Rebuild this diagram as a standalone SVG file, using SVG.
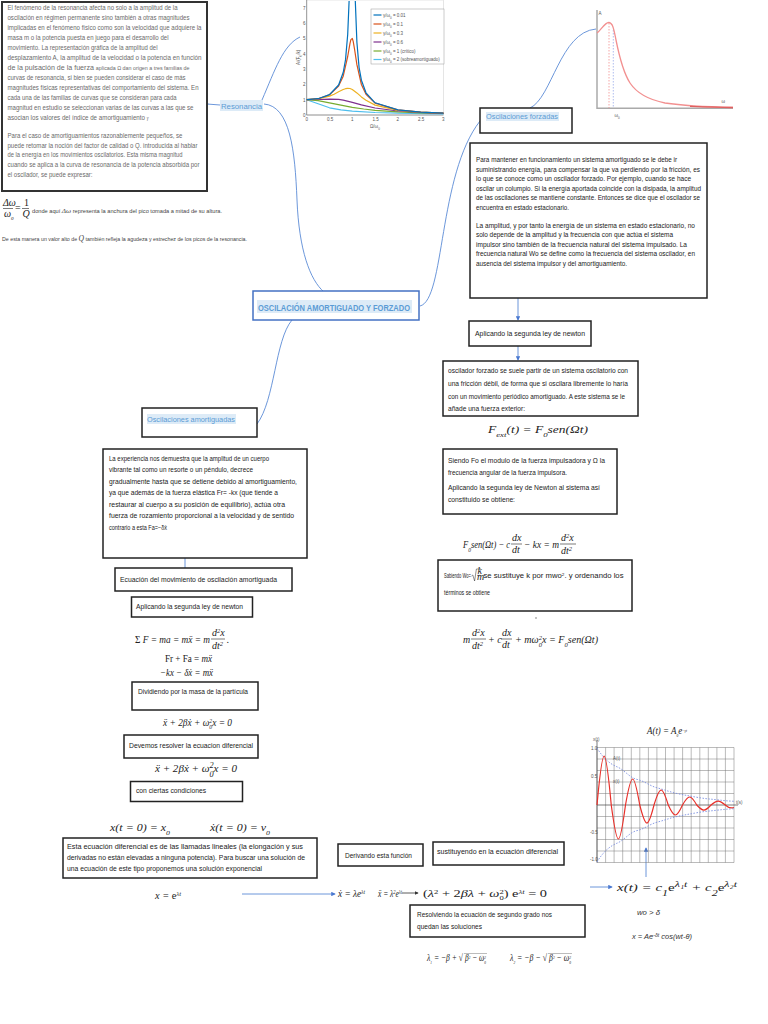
<svg xmlns="http://www.w3.org/2000/svg" width="768" height="1024" viewBox="0 0 768 1024">
<defs>
<marker id="ar" viewBox="0 0 6 6" refX="5" refY="3" markerWidth="5" markerHeight="5" orient="auto"><path d="M0,0 L6,3 L0,6 z" fill="#4a78d0"/></marker>
<marker id="ak" viewBox="0 0 6 6" refX="5" refY="3" markerWidth="5" markerHeight="5" orient="auto"><path d="M0,0 L6,3 L0,6 z" fill="#333"/></marker>
</defs>
<style>
.bx{fill:#fff;stroke:#222;stroke-width:1.5}
.tx{font-family:"Liberation Sans","Noto Sans",sans-serif;font-size:6.6px;fill:#222}
.gt{font-family:"Liberation Sans",sans-serif;font-size:8px;fill:#6a6a6a}
.m{font-family:"Liberation Serif","DejaVu Serif",serif;font-style:italic;font-size:10px;fill:#222}
.mu{font-family:"Liberation Serif","DejaVu Serif",serif;font-size:10px;fill:#222}
.nd{font-family:"Liberation Sans",sans-serif;font-size:8px;fill:#5b9bd5}
.hl{fill:#ddebf7}
.cn{fill:none;stroke:#5b8bd6;stroke-width:0.9}
.ax{font-family:"Liberation Sans",sans-serif;font-size:4.5px;fill:#555}
.fl{stroke:#222;stroke-width:0.6}
.cv{fill:none;stroke-width:1.2;stroke-linejoin:round}
</style>
<rect width="768" height="1024" fill="#fff"/>

<g id="connectors">
<circle cx="206.5" cy="104" r="1.8" fill="#4a78d0"/>
<path class="cn" d="M207,104 L220,105"/>
<path class="cn" d="M262,100 C275,70 283,45 300,37"/>
<path class="cn" d="M264,104 C290,106 295,150 297,200 C299,250 310,280 324,292"/>
<path class="cn" d="M420,306 C445,300 438,175 480,121"/>
<path class="cn" d="M530,108 C552,98 560,32 596,29"/>
<path class="cn" d="M292,320 C275,340 275,400 257,424"/>
<path class="cn" d="M518,298 L518,320" marker-end="url(#ar)"/>
<path class="cn" d="M518,346 L518,360" marker-end="url(#ar)"/>
<path class="cn" d="M185,558 L185,568"/>
<path class="cn" d="M242,894 L335,894" marker-end="url(#ar)"/>
<path fill="none" stroke="#333" stroke-width="0.8" d="M402,893 L418,893" marker-end="url(#ak)"/>
<path class="cn" d="M590,887 L612,887" marker-end="url(#ar)"/>
<path class="cn" d="M646,877 L646,848" marker-end="url(#ar)"/>
<circle cx="536" cy="618" r="0.8" fill="#777"/>
</g>

<g id="texto-resonancia">
<rect x="2" y="2" width="205" height="189" fill="#fff" stroke="#333" stroke-width="2"/>
<text class="gt" x="7.5" y="10.3" textLength="170" lengthAdjust="spacingAndGlyphs">El fenómeno de la resonancia afecta no solo a la amplitud de la</text>
<text class="gt" x="7.5" y="20.3" textLength="182" lengthAdjust="spacingAndGlyphs">oscilación en régimen permanente sino también a otras magnitudes</text>
<text class="gt" x="7.5" y="30.3" textLength="194" lengthAdjust="spacingAndGlyphs">implicadas en el fenómeno físico como son la velocidad que adquiere la</text>
<text class="gt" x="7.5" y="40.3" textLength="161" lengthAdjust="spacingAndGlyphs">masa m o la potencia puesta en juego para el desarrollo del</text>
<text class="gt" x="7.5" y="50.3" textLength="150" lengthAdjust="spacingAndGlyphs">movimiento. La representación gráfica de la amplitud del</text>
<text class="gt" x="7.5" y="60.3" textLength="194" lengthAdjust="spacingAndGlyphs">desplazamiento A, la amplitud de la velocidad o la potencia en función</text>
<text class="gt" x="7.5" y="70.3" textLength="182" lengthAdjust="spacingAndGlyphs">de la pulsación de la fuerza <tspan font-size="6">aplicada Ω dan origen a tres familias de</tspan></text>
<text class="gt" x="7.5" y="80.3" textLength="178" lengthAdjust="spacingAndGlyphs">curvas de resonancia, si bien se pueden considerar el caso de más</text>
<text class="gt" x="7.5" y="90.3" textLength="191" lengthAdjust="spacingAndGlyphs">magnitudes físicas representativas del comportamiento del sistema. En</text>
<text class="gt" x="7.5" y="100.3" textLength="169" lengthAdjust="spacingAndGlyphs">cada una de las familias de curvas que se consideran para cada</text>
<text class="gt" x="7.5" y="110.3" textLength="186" lengthAdjust="spacingAndGlyphs">magnitud en estudio se seleccionan varias de las curvas a las que se</text>
<text class="gt" x="7.5" y="120.3" textLength="141" lengthAdjust="spacingAndGlyphs">asocian los valores del índice de amortiguamiento <tspan font-family="Liberation Serif" font-style="italic" font-size="6">γ</tspan></text>
<text class="gt" x="7.5" y="137.8" textLength="175" lengthAdjust="spacingAndGlyphs">Para el caso de amortiguamientos razonablemente pequeños, se</text>
<text class="gt" x="7.5" y="147.6" textLength="190" lengthAdjust="spacingAndGlyphs">puede retomar la noción del factor de calidad o Q. introducida al hablar</text>
<text class="gt" x="7.5" y="157.4" textLength="175" lengthAdjust="spacingAndGlyphs">de la energía en los movimientos oscilatorios. Esta misma magnitud</text>
<text class="gt" x="7.5" y="167.2" textLength="192" lengthAdjust="spacingAndGlyphs">cuando se aplica a la curva de resonancia de la potencia absorbida por</text>
<text class="gt" x="7.5" y="177" textLength="85" lengthAdjust="spacingAndGlyphs">el oscilador, se puede expresar:</text>
</g>

<g id="factor-calidad">
<text class="m" x="3" y="206" font-size="7.5" fill="#333">Δω</text>
<line class="fl" x1="3" y1="208.5" x2="13" y2="208.5"/>
<text class="m" x="4" y="217" font-size="7.5" fill="#333">ω<tspan font-size="5" baseline-shift="sub">0</tspan></text>
<text class="mu" x="15" y="211" font-size="7.5" fill="#333">=</text>
<text class="mu" x="24" y="206" font-size="7.5" fill="#333">1</text>
<line class="fl" x1="22" y1="208.5" x2="29" y2="208.5"/>
<text class="m" x="22.5" y="217" font-size="7.5" fill="#333">Q</text>
<text x="32" y="213" font-family="Liberation Sans, sans-serif" font-size="5.5" fill="#444" textLength="190" lengthAdjust="spacingAndGlyphs">donde aquí <tspan font-family="Liberation Serif" font-style="italic" font-size="7">Δω</tspan> representa la anchura del pico tomada a mitad de su altura.</text>
<text x="2" y="241" font-family="Liberation Sans, sans-serif" font-size="5.5" fill="#444" textLength="245" lengthAdjust="spacingAndGlyphs">De esta manera un valor alto de <tspan font-family="Liberation Serif" font-style="italic" font-size="8">Q</tspan> también refleja la agudeza y estrechez de los picos de la resonancia.</text>
</g>

<g id="resonancia">
<rect class="hl" x="220" y="100" width="43" height="11"/>
<text class="nd" x="221" y="108.5" textLength="41" lengthAdjust="spacingAndGlyphs">Resonancia</text>
</g>

<g id="grafica-resonancia">
<rect x="306.7" y="0" width="136.8" height="115" fill="#fff" stroke="#ccc" stroke-width="0.5"/>
<path d="M306.7,0 V115 H443.5" fill="none" stroke="#777" stroke-width="0.7"/>
<text class="ax" x="303" y="117">0</text><text class="ax" x="303" y="101.5">1</text><text class="ax" x="303" y="86">2</text><text class="ax" x="303" y="71">3</text><text class="ax" x="303" y="55.5">4</text><text class="ax" x="303" y="40">5</text><text class="ax" x="303" y="25">6</text><text class="ax" x="303" y="9.5">7</text>
<text class="ax" x="305.5" y="121">0</text><text class="ax" x="327" y="121">0.5</text><text class="ax" x="351" y="121">1</text><text class="ax" x="372.5" y="121">1.5</text><text class="ax" x="396.5" y="121">2</text><text class="ax" x="418" y="121">2.5</text><text class="ax" x="442" y="121">3</text>
<text class="ax" x="370" y="127.5">Ω/ω<tspan font-size="3" baseline-shift="sub">0</tspan></text>
<text class="ax" transform="translate(300,65) rotate(-90)">A/(F<tspan font-size="3" baseline-shift="sub">0</tspan>/k)</text>
<polyline class="cv" stroke="#4dbeee" points="306.7,99.7 318.1,103.8 329.5,107.8 340.9,109.9 352.3,111.2 375.1,112.5 397.9,113.2 443.5,113.9"/>
<polyline class="cv" stroke="#77ac30" points="306.7,99.7 318.1,100.6 329.5,102.8 340.9,105.2 352.3,107.4 363.7,109.0 375.1,110.3 397.9,111.9 420.7,112.9 443.5,113.5"/>
<polyline class="cv" stroke="#7e2f8e" points="306.7,99.7 318.1,99.5 329.5,99.1 338.6,99.4 343.2,100.1 352.3,102.3 361.4,104.8 375.1,108.0 397.9,111.0 420.7,112.5 443.5,113.3"/>
<polyline class="cv" stroke="#edb120" points="306.7,99.7 318.1,98.9 329.5,96.1 334.1,94.2 338.6,91.8 343.2,89.5 345.5,88.7 347.7,88.3 350.0,88.5 352.3,89.5 356.9,92.9 361.4,96.9 366.0,100.3 375.1,105.1 397.9,110.3 420.7,112.2 443.5,113.1"/>
<polyline class="cv" stroke="#d95319" points="306.7,99.7 318.1,98.7 329.5,94.8 338.6,86.1 343.2,76.2 347.7,56.5 350.0,43.4 350.9,39.6 352.3,38.5 353.2,41.4 354.6,49.5 356.9,64.7 361.4,84.5 366.0,94.3 375.1,103.1 397.9,109.9 420.7,112.1 443.5,113.1"/>
<path class="cv" stroke="#0072bd" d="M306.7,99.7 L318.1,98.7 329.5,94.6 338.6,85.0 343.2,72.5 345.5,59.9 347.7,34.5 349.1,1 M355.3,1 L356.9,42.2 359.1,67.6 361.4,80.2 366.0,92.8 375.1,102.8 397.9,109.9 420.7,112.1 443.5,113.1"/>
<rect x="371" y="9" width="73" height="55" fill="#fff" stroke="#999" stroke-width="0.5"/>
<line x1="373.5" y1="15" x2="381.5" y2="15" stroke="#0072bd" stroke-width="1.2"/>
<line x1="373.5" y1="24" x2="381.5" y2="24" stroke="#d95319" stroke-width="1.2"/>
<line x1="373.5" y1="33" x2="381.5" y2="33" stroke="#edb120" stroke-width="1.2"/>
<line x1="373.5" y1="42" x2="381.5" y2="42" stroke="#7e2f8e" stroke-width="1.2"/>
<line x1="373.5" y1="51" x2="381.5" y2="51" stroke="#77ac30" stroke-width="1.2"/>
<line x1="373.5" y1="59.5" x2="381.5" y2="59.5" stroke="#4dbeee" stroke-width="1.2"/>
<text class="ax" x="383" y="16.6">γ/ω<tspan font-size="3" baseline-shift="sub">0</tspan> = 0.01</text>
<text class="ax" x="383" y="25.6">γ/ω<tspan font-size="3" baseline-shift="sub">0</tspan> = 0.1</text>
<text class="ax" x="383" y="34.6">γ/ω<tspan font-size="3" baseline-shift="sub">0</tspan> = 0.3</text>
<text class="ax" x="383" y="43.6">γ/ω<tspan font-size="3" baseline-shift="sub">0</tspan> = 0.6</text>
<text class="ax" x="383" y="52.6">γ/ω<tspan font-size="3" baseline-shift="sub">0</tspan> = 1 (crítico)</text>
<text class="ax" x="383" y="61.1">γ/ω<tspan font-size="3" baseline-shift="sub">0</tspan> = 2 (sobreamortiguado)</text>
</g>

<g id="grafica-forzada">
<path d="M597,10 V108.3 H733" fill="none" stroke="#aaa" stroke-width="1.5"/>
<line x1="609" y1="23" x2="609" y2="108" stroke="#f08080" stroke-width="0.7" stroke-dasharray="1.5,1.5"/>
<line x1="613.3" y1="30" x2="613.3" y2="108" stroke="#8da0e8" stroke-width="0.7" stroke-dasharray="1.5,1.5"/>
<path d="M597,33 C601,30 605,22 609,22.5 C613,23 614,30 616,40 C619,55 623,72 630,83 C638,95 650,100 665,103 C685,106 710,107 733,107.5" fill="none" stroke="#f29090" stroke-width="1.3"/>
<path d="M690,106.3 C710,107 720,107.3 733,107.5" fill="none" stroke="#e06060" stroke-width="1.3"/>
<text class="ax" x="598.5" y="15">A</text>
<text class="ax" x="614.5" y="117">ω<tspan font-size="3" baseline-shift="sub">0</tspan></text>
<text class="ax" x="721.5" y="103">ω</text>
</g>

<g id="oscilaciones-forzadas">
<rect class="bx" x="480" y="108" width="92" height="25"/>
<rect class="hl" x="486" y="112" width="73" height="9"/>
<text class="nd" x="486" y="119.3" textLength="72" lengthAdjust="spacingAndGlyphs">Oscilaciones forzadas</text>
</g>

<g id="texto-forzadas">
<rect class="bx" x="470" y="143" width="237" height="155"/>
<text class="tx" x="476" y="162.3" textLength="201" lengthAdjust="spacingAndGlyphs">Para mantener en funcionamiento un sistema amortiguado se le debe ir</text>
<text class="tx" x="476" y="171.8" textLength="224" lengthAdjust="spacingAndGlyphs">suministrando energía, para compensar la que va perdiendo por la fricción, es</text>
<text class="tx" x="476" y="181.3" textLength="215" lengthAdjust="spacingAndGlyphs">lo que se conoce como un oscilador forzado. Por ejemplo, cuando se hace</text>
<text class="tx" x="476" y="190.8" textLength="225" lengthAdjust="spacingAndGlyphs">oscilar un columpio. Si la energía aportada coincide con la disipada, la amplitud</text>
<text class="tx" x="476" y="200.3" textLength="224" lengthAdjust="spacingAndGlyphs">de las oscilaciones se mantiene constante. Entonces se dice que el oscilador se</text>
<text class="tx" x="476" y="209.8" textLength="93" lengthAdjust="spacingAndGlyphs">encuentra en estado estacionario.</text>
<text class="tx" x="476" y="227.8" textLength="219" lengthAdjust="spacingAndGlyphs">La amplitud, y por tanto la energía de un sistema en estado estacionario, no</text>
<text class="tx" x="476" y="237.3" textLength="197" lengthAdjust="spacingAndGlyphs">solo depende de la amplitud y la frecuencia con que actúa el sistema</text>
<text class="tx" x="476" y="246.8" textLength="211" lengthAdjust="spacingAndGlyphs">impulsor sino también de la frecuencia natural del sistema impulsado. La</text>
<text class="tx" x="476" y="256.3" textLength="219" lengthAdjust="spacingAndGlyphs">frecuencia natural Wo se define como la frecuencia del sistema oscilador, en</text>
<text class="tx" x="476" y="265.8" textLength="151" lengthAdjust="spacingAndGlyphs">ausencia del sistema impulsor y del amortiguamiento.</text>
</g>

<g id="nodo-central">
<rect x="253" y="291" width="166" height="29" fill="#fff" stroke="#4472c4" stroke-width="1.5"/>
<rect class="hl" x="257" y="300" width="155" height="13"/>
<text x="258" y="310.5" font-family="Liberation Sans, sans-serif" font-weight="bold" font-size="9" fill="#5b9bd5" textLength="152" lengthAdjust="spacingAndGlyphs">OSCILACIÓN AMORTIGUADO Y FORZADO</text>
</g>

<g id="aplicando-forzado">
<rect class="bx" x="469" y="321" width="122" height="25"/>
<text class="tx" x="475" y="335.5" textLength="110" lengthAdjust="spacingAndGlyphs">Aplicando la segunda ley de newton</text>
</g>

<g id="oscilador-forzado">
<rect class="bx" x="443" y="361" width="195" height="55"/>
<text class="tx" x="448" y="372.8" textLength="180" lengthAdjust="spacingAndGlyphs">oscilador forzado se suele partir de un sistema oscilatorio con</text>
<text class="tx" x="448" y="385.8" textLength="180" lengthAdjust="spacingAndGlyphs">una fricción débil, de forma que si oscilara libremente lo haría</text>
<text class="tx" x="448" y="398.8" textLength="177" lengthAdjust="spacingAndGlyphs">con un movimiento periódico amortiguado. A este sistema se le</text>
<text class="tx" x="448" y="411.3" textLength="77" lengthAdjust="spacingAndGlyphs">añade una fuerza exterior:</text>
</g>

<g id="fuerza-exterior">
<text class="m" x="488" y="433" textLength="100" lengthAdjust="spacingAndGlyphs">F<tspan font-size="6.5" baseline-shift="sub">ext</tspan>(t) = F<tspan font-size="6.5" baseline-shift="sub">0</tspan>sen(Ωt)</text>
</g>

<g id="siendo">
<rect class="bx" x="443" y="449" width="174" height="65"/>
<text class="tx" x="448" y="463.3" textLength="157" lengthAdjust="spacingAndGlyphs">Siendo Fo el modulo de la fuerza impulsadora y Ω la</text>
<text class="tx" x="448" y="475.3" textLength="119" lengthAdjust="spacingAndGlyphs">frecuencia angular de la fuerza impulsora.</text>
<text class="tx" x="448" y="490.3" textLength="152" lengthAdjust="spacingAndGlyphs">Aplicando la segunda ley de Newton al sistema así</text>
<text class="tx" x="448" y="502.3" textLength="67" lengthAdjust="spacingAndGlyphs">constituido se obtiene:</text>
</g>

<g id="ecuacion-forzada">
<text class="m" x="463" y="548" textLength="47" lengthAdjust="spacingAndGlyphs">F<tspan font-size="6.5" baseline-shift="sub">0</tspan>sen(Ωt) − c</text>
<text class="m" x="512" y="541">dx</text><line class="fl" x1="511" y1="544" x2="522" y2="544"/><text class="m" x="512" y="553">dt</text>
<text class="m" x="524" y="548" textLength="35" lengthAdjust="spacingAndGlyphs">− kx = m</text>
<text class="m" x="561" y="541">d<tspan font-size="6.5" baseline-shift="super">2</tspan>x</text><line class="fl" x1="560" y1="544" x2="576" y2="544"/><text class="m" x="561" y="553.5">dt<tspan font-size="6.5" baseline-shift="super">2</tspan></text>
</g>

<g id="sabiendo">
<rect class="bx" x="438" y="560" width="194" height="51"/>
<text class="tx" x="444" y="577.5" font-size="5.6" textLength="27" lengthAdjust="spacingAndGlyphs">Sabiendo Wo=</text>
<path d="M471.5,576 L472.8,575 L474.6,581 L476.4,569 L481,569" fill="none" stroke="#222" stroke-width="0.5"/>
<text class="m" x="477.6" y="574" font-size="4">k</text><line x1="477" y1="575.3" x2="480.6" y2="575.3" stroke="#222" stroke-width="0.4"/><text class="m" x="477" y="579.5" font-size="3.6">m</text>
<text class="tx" x="483.5" y="577.5" font-size="5.6" textLength="140" lengthAdjust="spacingAndGlyphs">se sustituye k por mwo<tspan font-size="4" baseline-shift="super">2</tspan>. y ordenando los</text>
<text class="tx" x="444" y="595" font-size="5.6" textLength="46" lengthAdjust="spacingAndGlyphs">términos se obtiene</text>
</g>

<g id="ecuacion-ordenada">
<text class="m" x="463" y="643">m</text>
<text class="m" x="472" y="636">d<tspan font-size="6.5" baseline-shift="super">2</tspan>x</text><line class="fl" x1="471" y1="639" x2="486" y2="639"/><text class="m" x="472" y="648.5">dt<tspan font-size="6.5" baseline-shift="super">2</tspan></text>
<text class="m" x="488" y="643">+ c</text>
<text class="m" x="502" y="636">dx</text><line class="fl" x1="501" y1="639" x2="512" y2="639"/><text class="m" x="502" y="648">dt</text>
<text class="m" x="515" y="643" textLength="83" lengthAdjust="spacingAndGlyphs">+ mω<tspan font-size="6.5" baseline-shift="sub">0</tspan><tspan font-size="6.5" dx="-3.3" baseline-shift="super">2</tspan>x = F<tspan font-size="6.5" baseline-shift="sub">0</tspan>sen(Ωt)</text>
</g>

<g id="oscilaciones-amortiguadas">
<rect class="bx" x="142" y="408" width="115" height="29"/>
<rect class="hl" x="147" y="414" width="89" height="10"/>
<text class="nd" x="147" y="422" textLength="88" lengthAdjust="spacingAndGlyphs">Oscilaciones amortiguadas</text>
</g>

<g id="experiencia">
<rect class="bx" x="103" y="449" width="204" height="109"/>
<text class="tx" x="109" y="460.5" textLength="160" lengthAdjust="spacingAndGlyphs">La experiencia nos demuestra que la amplitud de un cuerpo</text>
<text class="tx" x="109" y="472" textLength="144" lengthAdjust="spacingAndGlyphs">vibrante tal como un resorte o un péndulo, decrece</text>
<text class="tx" x="109" y="483.5" textLength="188" lengthAdjust="spacingAndGlyphs">gradualmente hasta que se detiene debido al amortiguamiento,</text>
<text class="tx" x="109" y="495" textLength="169" lengthAdjust="spacingAndGlyphs">ya que además de la fuerza elástica Fr= -kx (que tiende a</text>
<text class="tx" x="109" y="506.5" textLength="176" lengthAdjust="spacingAndGlyphs">restaurar al cuerpo a su posición de equilibrio), actúa otra</text>
<text class="tx" x="109" y="518" textLength="185" lengthAdjust="spacingAndGlyphs">fuerza de rozamiento proporcional a la velocidad y de sentido</text>
<text class="tx" x="109" y="529.5" textLength="58" lengthAdjust="spacingAndGlyphs">contrario a esta Fa=−δẋ</text>
</g>

<g id="ecuacion-movimiento">
<rect class="bx" x="115" y="568" width="177" height="23"/>
<text class="tx" x="120" y="581.5" textLength="157" lengthAdjust="spacingAndGlyphs">Ecuación del movimiento de oscilación amortiguada</text>
</g>

<g id="aplicando-amortiguado">
<rect class="bx" x="131.5" y="597" width="121" height="20"/>
<text class="tx" x="136" y="609" textLength="107" lengthAdjust="spacingAndGlyphs">Aplicando la segunda ley de newton</text>
</g>

<g id="ecuaciones-newton">
<text class="m" x="135" y="643" textLength="75" lengthAdjust="spacingAndGlyphs"><tspan font-style="normal">Σ</tspan> F = ma = mẍ = m</text>
<text class="m" x="212" y="636">d<tspan font-size="6.5" baseline-shift="super">2</tspan>x</text><line class="fl" x1="211" y1="639" x2="225" y2="639"/><text class="m" x="212" y="648.5">dt<tspan font-size="6.5" baseline-shift="super">2</tspan></text>
<text class="mu" x="226.5" y="643">.</text>
<text class="mu" x="165" y="662" font-size="9" textLength="47" lengthAdjust="spacingAndGlyphs">Fr + Fa = <tspan font-style="italic">mẍ</tspan></text>
<text class="m" x="160" y="676" font-size="9" textLength="53" lengthAdjust="spacingAndGlyphs">−kx − δẋ = mẍ</text>
</g>

<g id="dividiendo">
<rect class="bx" x="132" y="682" width="126" height="28"/>
<text class="tx" x="138" y="694" textLength="110" lengthAdjust="spacingAndGlyphs">Dividiendo por la masa de la partícula</text>
</g>

<g id="ecuacion-diferencial-1">
<text class="m" x="163" y="726" font-size="9" fill="#444" textLength="69" lengthAdjust="spacingAndGlyphs">ẍ + 2βẋ + ω<tspan font-size="6" baseline-shift="sub">0</tspan><tspan font-size="6" dx="-3" baseline-shift="super">2</tspan>x = 0</text>
</g>

<g id="devemos">
<rect class="bx" x="124" y="735" width="134" height="23"/>
<text class="tx" x="129" y="747.5" textLength="124" lengthAdjust="spacingAndGlyphs">Devemos resolver la ecuacion diferencial</text>
</g>

<g id="ecuacion-diferencial-2">
<text class="m" x="155" y="772" font-size="11.5" textLength="82" lengthAdjust="spacingAndGlyphs">ẍ + 2βẋ + ω<tspan font-size="7.5" baseline-shift="sub">0</tspan><tspan font-size="7.5" dx="-3.8" baseline-shift="super">2</tspan>x = 0</text>
</g>

<g id="condiciones">
<rect class="bx" x="130.5" y="781.5" width="112" height="20"/>
<text class="tx" x="136" y="792.5" textLength="70" lengthAdjust="spacingAndGlyphs">con ciertas condiciones</text>
</g>

<g id="condiciones-iniciales">
<text class="m" x="110" y="831" textLength="60" lengthAdjust="spacingAndGlyphs">x(t = 0) = x<tspan font-size="6.5" baseline-shift="sub">0</tspan></text>
<text class="m" x="210" y="831" textLength="60" lengthAdjust="spacingAndGlyphs">ẋ(t = 0) = v<tspan font-size="6.5" baseline-shift="sub">0</tspan></text>
</g>

<g id="esta-ecuacion">
<rect class="bx" x="63" y="838" width="254" height="40"/>
<text class="tx" x="67" y="848.5" textLength="236" lengthAdjust="spacingAndGlyphs">Esta ecuación diferencial es de las llamadas lineales (la elongación y sus</text>
<text class="tx" x="67" y="859.5" textLength="238" lengthAdjust="spacingAndGlyphs">derivadas no están elevadas a ninguna potencia). Para buscar una solución de</text>
<text class="tx" x="67" y="870.5" textLength="195" lengthAdjust="spacingAndGlyphs">una ecuación de este tipo proponemos una solución exponencial</text>
</g>

<g id="solucion-exponencial">
<text class="m" x="155" y="899" textLength="26" lengthAdjust="spacingAndGlyphs">x = <tspan font-style="normal">e</tspan><tspan font-size="6.5" baseline-shift="super">λt</tspan></text>
</g>

<g id="derivando">
<rect class="bx" x="338" y="844" width="85" height="22"/>
<text class="tx" x="345" y="857.5" textLength="67" lengthAdjust="spacingAndGlyphs">Derivando esta función</text>
</g>

<g id="sustituyendo">
<rect class="bx" x="433" y="842" width="131" height="23"/>
<text class="tx" x="437" y="854" textLength="121" lengthAdjust="spacingAndGlyphs">sustituyendo en la ecuación diferencial</text>
</g>

<g id="derivadas">
<text class="m" x="338" y="896.5" font-size="9" textLength="27" lengthAdjust="spacingAndGlyphs">ẋ = λe<tspan font-size="6" baseline-shift="super">λt</tspan></text>
<text class="m" x="378" y="896.5" font-size="9" textLength="24" lengthAdjust="spacingAndGlyphs">ẍ = λ<tspan font-size="6" baseline-shift="super">2</tspan>e<tspan font-size="6" baseline-shift="super">λt</tspan></text>
<text class="mu" x="423" y="897" font-size="9" fill="#333" textLength="124" lengthAdjust="spacingAndGlyphs">(<tspan font-style="italic">λ</tspan><tspan font-size="6" baseline-shift="super">2</tspan> + 2<tspan font-style="italic">βλ</tspan> + <tspan font-style="italic">ω</tspan><tspan font-size="6" baseline-shift="sub">0</tspan><tspan font-size="6" dx="-3" baseline-shift="super">2</tspan>) e<tspan font-size="6" baseline-shift="super" font-style="italic">λt</tspan> = 0</text>
</g>

<g id="resolviendo">
<rect class="bx" x="410" y="905" width="175" height="32"/>
<text class="tx" x="417" y="917.3" textLength="135" lengthAdjust="spacingAndGlyphs">Resolviendo la ecuación de segundo grado nos</text>
<text class="tx" x="417" y="929.3" textLength="65" lengthAdjust="spacingAndGlyphs">quedan las soluciones</text>
</g>

<g id="raices">
<text class="m" x="427" y="961" font-size="7" fill="#555" textLength="36" lengthAdjust="spacingAndGlyphs">λ<tspan font-size="4.5" baseline-shift="sub">1</tspan> = −β + √</text>
<line x1="464" y1="953.5" x2="487" y2="953.5" stroke="#555" stroke-width="0.4"/>
<text class="m" x="465" y="961" font-size="7" fill="#555" textLength="21" lengthAdjust="spacingAndGlyphs">β<tspan font-size="4.5" baseline-shift="super">2</tspan> − ω<tspan font-size="4.5" baseline-shift="sub">0</tspan><tspan font-size="4.5" dx="-2.3" baseline-shift="super">2</tspan></text>
<text class="m" x="510" y="961" font-size="7" fill="#555" textLength="37" lengthAdjust="spacingAndGlyphs">λ<tspan font-size="4.5" baseline-shift="sub">2</tspan> = −β − √</text>
<line x1="548" y1="953.5" x2="572" y2="953.5" stroke="#555" stroke-width="0.4"/>
<text class="m" x="549" y="961" font-size="7" fill="#555" textLength="22" lengthAdjust="spacingAndGlyphs">β<tspan font-size="4.5" baseline-shift="super">2</tspan> − ω<tspan font-size="4.5" baseline-shift="sub">0</tspan><tspan font-size="4.5" dx="-2.3" baseline-shift="super">2</tspan></text>
</g>

<g id="grafica-amortiguada">
<text class="m" x="647" y="734" font-size="6" fill="#555" textLength="40" lengthAdjust="spacingAndGlyphs">A(t) = A<tspan font-size="4" baseline-shift="sub">0</tspan>e<tspan font-size="4" baseline-shift="super">−γt</tspan></text>
<path fill="none" stroke="#777" stroke-width="0.5" d="M597,747.5 V862.5 M605.6,747.5 V862.5 M614.1,747.5 V862.5 M622.7,747.5 V862.5 M631.3,747.5 V862.5 M639.8,747.5 V862.5 M648.4,747.5 V862.5 M656.9,747.5 V862.5 M665.5,747.5 V862.5 M674.1,747.5 V862.5 M682.6,747.5 V862.5 M691.2,747.5 V862.5 M699.8,747.5 V862.5 M708.3,747.5 V862.5 M716.9,747.5 V862.5 M725.4,747.5 V862.5 M734,747.5 V862.5 M597,747.5 H734 M597,759 H734 M597,770.5 H734 M597,782 H734 M597,793.5 H734 M597,816.5 H734 M597,828 H734 M597,839.5 H734 M597,851 H734 M597,862.5 H734"/>
<path d="M597,740 V862.5 M597,805 H738" fill="none" stroke="#444" stroke-width="0.7"/>
<text class="ax" x="593" y="741" font-size="3.5">x(t)</text>
<text class="ax" x="591" y="750" font-size="3.5">1.0</text>
<text class="ax" x="591" y="778" font-size="3.5">0.5</text>
<text class="ax" x="590" y="834" font-size="3.5">-0.5</text>
<text class="ax" x="590" y="861" font-size="3.5">-1.0</text>
<text class="ax" x="736" y="804" font-size="3.5">t(s)</text>
<path d="M597,748 C603,758 610,764 617,766.8 S630,778 637,779.4 S650,786 657,787.8 S670,792 677,793.5 S690,796 697,797.3 S710,799 717,799.8 S728,801 734,801.3" fill="none" stroke="#7b8fe0" stroke-width="0.9" stroke-dasharray="1.5,1.5"/>
<path d="M597,862 C603,852 610,846 617,843.2 S630,832 637,830.6 S650,824 657,822.2 S670,818 677,816.5 S690,814 697,812.7 S710,811 717,810.2 S728,809 734,808.7" fill="none" stroke="#7b8fe0" stroke-width="0.9" stroke-dasharray="1.5,1.5"/>
<path d="M597,805 C603.05,739.7 605.2,739.7 611.25,805 C617.3,850.3 619.45,850.3 625.5,805 C631.55,770.3 633.7,770.3 639.75,805 C645.8,829 647.95,829 654,805 C660.05,785 662.2,785 668.25,805 C674.3,818.3 676.45,818.3 682.5,805 C688.55,794.3 690.7,794.3 696.75,805 C702.8,811.7 704.95,811.7 711,805 C717.05,799.7 719.2,799.7 725.25,805 Q729.5,809 734,807.5" fill="none" stroke="#e8302a" stroke-width="1.2"/>
<text class="ax" x="613" y="760" fill="#6070d8">A(t)</text>
<text class="ax" x="613" y="783" fill="#e8302a">x(t)</text>
</g>

<g id="solucion-general">
<text class="m" x="617" y="891" font-size="13" fill="#555" textLength="120" lengthAdjust="spacingAndGlyphs">x(t) = c<tspan font-size="8" baseline-shift="sub">1</tspan><tspan font-style="normal">e</tspan><tspan font-size="8" baseline-shift="super">λ₁t</tspan> + c<tspan font-size="8" baseline-shift="sub">2</tspan><tspan font-style="normal">e</tspan><tspan font-size="8" baseline-shift="super">λ₂t</tspan></text>
<text x="637" y="914.5" font-family="Liberation Sans, sans-serif" font-style="italic" font-size="8" fill="#333" textLength="23" lengthAdjust="spacingAndGlyphs">wo &gt; δ</text>
<text x="632" y="939" font-family="Liberation Sans, sans-serif" font-style="italic" font-size="6.5" fill="#333" textLength="60" lengthAdjust="spacingAndGlyphs">x = Ae<tspan font-size="4.5" baseline-shift="super">-δt</tspan> cos(wt-θ)</text>
</g>
</svg>
